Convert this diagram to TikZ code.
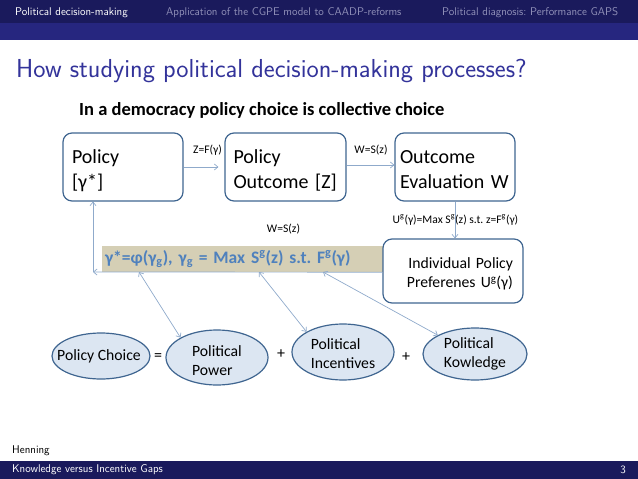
\documentclass[tikz,border=0pt]{standalone}
\usepackage{fontspec}
\setmainfont{Carlito}
\frenchspacing
\usetikzlibrary{shapes.geometric,arrows.meta}
\definecolor{navdark}{HTML}{1A1A5C}
\definecolor{navlight}{HTML}{26267F}
\definecolor{navfade}{HTML}{9090B8}
\definecolor{titleblue}{HTML}{33339A}
\definecolor{boxline}{HTML}{3F6590}
\definecolor{arrowblue}{HTML}{8FAACB}
\definecolor{bandtan}{HTML}{D5CFB5}
\definecolor{bandtext}{HTML}{4F81BD}
\definecolor{ovalfill}{HTML}{DCE6F2}
\newcommand{\firstline}[1]{\rule{0pt}{#1pt}}
\tikzset{
  >={Straight Barb[length=3.5pt,width=6pt]},
  boxnode/.style={draw=boxline,line width=1.2pt,rounded corners=9pt,inner ysep=4pt,align=left,
    font=\fontsize{20}{25}\selectfont},
  ovalnode/.style={draw=boxline,line width=1.2pt,fill=ovalfill,ellipse,inner xsep=-10pt,inner ysep=-6pt,align=left,
    font=\fontsize{15.7}{19}\selectfont},
  smalllabel/.style={font=\fontsize{11.6}{13}\selectfont},
  signlabel/.style={font=\fontsize{16}{18}\selectfont},
  beamertext/.style={font=\sffamily\fontsize{11.2}{13}\selectfont,anchor=west,inner sep=0pt},
}
\begin{document}
\begin{tikzpicture}[x=1pt,y=-1pt]
  \useasboundingbox (0,0) rectangle (638,479);
  \fill[navdark] (0,0) rectangle (638,23);
  \fill[navlight] (0,23) rectangle (638,39.5);
  \fill[navdark] (0,461) rectangle (638,479);
  \draw
    (15,12.5) node[beamertext,text=white] (navone){Political decision-making}
    (166,12.5) node[beamertext,text=navfade] (navtwo){Application of the CGPE model to CAADP-reforms}
    (442,12.5) node[beamertext,text=navfade] (navthree){Political diagnosis: Performance GAPS}
    (16,71) node[anchor=west,inner sep=0pt,text=titleblue,font=\sffamily\fontsize{26}{30}\selectfont] (title){How studying political decision-making processes?}
    (79,110) node[anchor=west,inner sep=0pt,font=\bfseries\fontsize{18.5}{22}\selectfont] (heading){In a democracy policy choice is collective choice}
    (12,451) node[beamertext] (author){Henning}
    (12,469.5) node[beamertext,text=white] (foottitle){Knowledge versus Incentive Gaps}
    (626,469.5) node[beamertext,text=white,anchor=east] (pagenum){3};
  \draw
    (123,167) node[boxnode,minimum width=120pt,minimum height=68pt,inner xsep=9pt,text width=102pt] (policy){\firstline{22}Policy\\{[}γ*{]}}
    (285.5,167) node[boxnode,minimum width=121pt,minimum height=68pt,inner xsep=5.5pt,text width=110pt] (outcome){\firstline{20}\hspace*{3pt}Policy\\\hspace*{3pt}Outcome {[}Z{]}}
    (455,167) node[boxnode,minimum width=120pt,minimum height=68pt,inner xsep=5pt,text width=110pt] (evaluation){\firstline{18}Outcome\\Evaluation W}
    (242.5,259) node[fill=bandtan,minimum width=281pt,minimum height=26pt,inner sep=0pt,text=bandtext,text width=275pt,align=left,font=\bfseries\fontsize{17.5}{20}\selectfont] (band){γ*=φ(γ\textsubscript{g}), γ\textsubscript{g} = Max S\textsuperscript{g}(z) s.t. F\textsuperscript{g}(γ)}
    (453,271) node[boxnode,minimum width=140pt,minimum height=64pt,inner xsep=10pt,inner ysep=0pt,text width=120pt,font=\fontsize{15.7}{19}\selectfont] (preferences){\firstline{17}\hfill Individual Policy\\\hfill Preferenes U\textsuperscript{g}(γ)}
    (101,356) node[ovalnode,minimum width=98pt,minimum height=46pt] (choice){Policy Choice\hspace{4pt}}
    (217,357.5) node[ovalnode,minimum width=102pt,minimum height=55pt] (power){\firstline{18}Political\hspace{14pt}\\Power}
    (343,352) node[ovalnode,minimum width=102pt,minimum height=56pt] (incentives){\firstline{14}Political\\Incentives\hspace{5pt}}
    (475,354) node[ovalnode,minimum width=104pt,minimum height=52pt] (knowledge){Political\\Kowledge}
    (158,357) node[signlabel] (equals){=}
    (281,354) node[signlabel] (plusone){+}
    (406,357) node[signlabel] (plustwo){+};
  \coordinate (corner) at (93,272);
  \coordinate (bandpower) at (139,272);
  \coordinate (bandincentives) at (259,272);
  \coordinate (bandknowledge) at (323,272);
  \begin{scope}[->,draw=arrowblue,line width=0.7pt]
    \draw[shorten >=6pt] (policy) to (outcome);
    \draw ([yshift=2pt]outcome.east) to ([yshift=2pt]evaluation.west);
    \draw (evaluation.south) to (evaluation.south |- preferences.north);
    \draw (preferences.west |- band.south) to (corner);
    \draw (corner) to (corner |- policy.south);
  \end{scope}
  \begin{scope}[<->,draw=arrowblue,line width=0.7pt]
    \draw (bandpower) to (power.north west);
    \draw (bandincentives) to (incentives.north west);
    \draw (bandknowledge) to (knowledge.north west);
  \end{scope}
  \draw
    (207.5,150.5) node[smalllabel] (labelz){Z=F(γ)}
    (371,150.5) node[smalllabel] (labelw){W=S(z)}
    (283.5,229) node[smalllabel] (labelws){W=S(z)}
    (455.5,220) node[smalllabel] (labelu){U\textsuperscript{g}(γ)=Max S\textsuperscript{g}(z) s.t. z=F\textsuperscript{g}(γ)};
\end{tikzpicture}
\end{document}
